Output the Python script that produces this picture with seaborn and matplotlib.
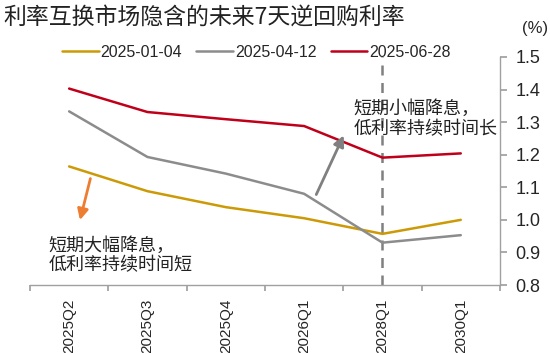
import matplotlib
matplotlib.use("Agg")
import matplotlib.pyplot as plt
import seaborn as sns
import pandas as pd

categories = ["2025Q2", "2025Q3", "2025Q4", "2026Q1", "2028Q1", "2030Q1"]
series_names = ["2025-01-04", "2025-04-12", "2025-06-28"]
s_0104 = [1.164, 1.088, 1.039, 1.005, 0.957, 1.0]
s_0412 = [1.333, 1.193, 1.142, 1.08, 0.930, 0.953]
s_0628 = [1.403, 1.331, 1.309, 1.288, 1.191, 1.204]
y_ticks = [0.8, 0.9, 1.0, 1.1, 1.2, 1.3, 1.4, 1.5]

sns.set_theme(style="white")
plt.rcParams["font.family"] = ["Liberation Sans", "Noto Sans CJK SC", "DejaVu Sans"]
cjk = ["Noto Sans CJK SC", "DejaVu Sans"]

df = pd.DataFrame({
    "cat": categories * 3,
    "value": s_0104 + s_0412 + s_0628,
    "series": [series_names[0]] * 6 + [series_names[1]] * 6 + [series_names[2]] * 6,
})
palette = {series_names[0]: "#CC9A06", series_names[1]: "#8C8C8C", series_names[2]: "#C0001A"}

fig = plt.figure(figsize=(5.5, 3.53), dpi=100)
ax = fig.add_axes([0.0545, 0.1926, 0.8545, 0.646])
sns.lineplot(data=df, x="cat", y="value", hue="series", palette=palette,
             linewidth=1.8, ax=ax, sort=False, legend=True)

ax.set_xlim(-0.5, 5.5)
ax.set_ylim(0.8, 1.5)
ax.yaxis.tick_right()
ax.set_yticks(y_ticks)
ax.set_yticklabels([f"{v:.1f}" for v in y_ticks], fontsize=13)
ax.tick_params(axis="y", which="major", direction="out", length=5, color="#A0A0A0",
               right=True, left=False, pad=6)

ax.set_xticks([i - 0.5 for i in range(len(categories) + 1)])
ax.set_xticklabels([""] * (len(categories) + 1))
ax.set_xticks(range(len(categories)), minor=True)
ax.set_xticklabels(categories, minor=True, rotation=90, fontsize=11)
ax.tick_params(axis="x", which="major", direction="out", length=4, color="#A0A0A0", bottom=True)
ax.tick_params(axis="x", which="minor", length=0, pad=10)
ax.set_xlabel("")
ax.set_ylabel("")

for s in ["top", "left"]:
    ax.spines[s].set_visible(False)
for s in ["right", "bottom"]:
    ax.spines[s].set_color("#A0A0A0")
    ax.spines[s].set_linewidth(1.0)

ax.axvline(4, color="#808080", linestyle=(0, (4, 3)), linewidth=1.8, zorder=0)

ax.annotate("", xy=(3.52, 1.267), xytext=(3.14, 1.07),
            arrowprops=dict(arrowstyle="-|>", color="#808080", lw=2, mutation_scale=16))
ax.annotate("", xy=(0.13, 0.991), xytext=(0.28, 1.135),
            arrowprops=dict(arrowstyle="-|>", color="#ED7D31", lw=2, mutation_scale=16))

ax.text(3.63, 1.31, "短期小幅降息，\n低利率持续时间长", fontsize=13, family=cjk,
        va="center", ha="left", linespacing=1.15, color="#222222")
ax.text(-0.264, 0.891, "短期大幅降息，\n低利率持续时间短", fontsize=13, family=cjk,
        va="center", ha="left", linespacing=1.15, color="#222222")

handles, labels = ax.get_legend_handles_labels()
ax.get_legend().remove()
fig.legend(handles, labels, loc="center", bbox_to_anchor=(0.466, 0.852), ncol=3,
           frameon=False, fontsize=11.5, handlelength=2.3, handletextpad=0.1,
           columnspacing=0.9)

fig.text(0.006, 0.952, "利率互换市场隐含的未来7天逆回购利率", fontsize=16.5, family=cjk,
         va="center", ha="left", color="#222222")
fig.text(0.972, 0.918, "(%)", fontsize=12, va="center", ha="center")

fig.savefig("out.png", dpi=100)
